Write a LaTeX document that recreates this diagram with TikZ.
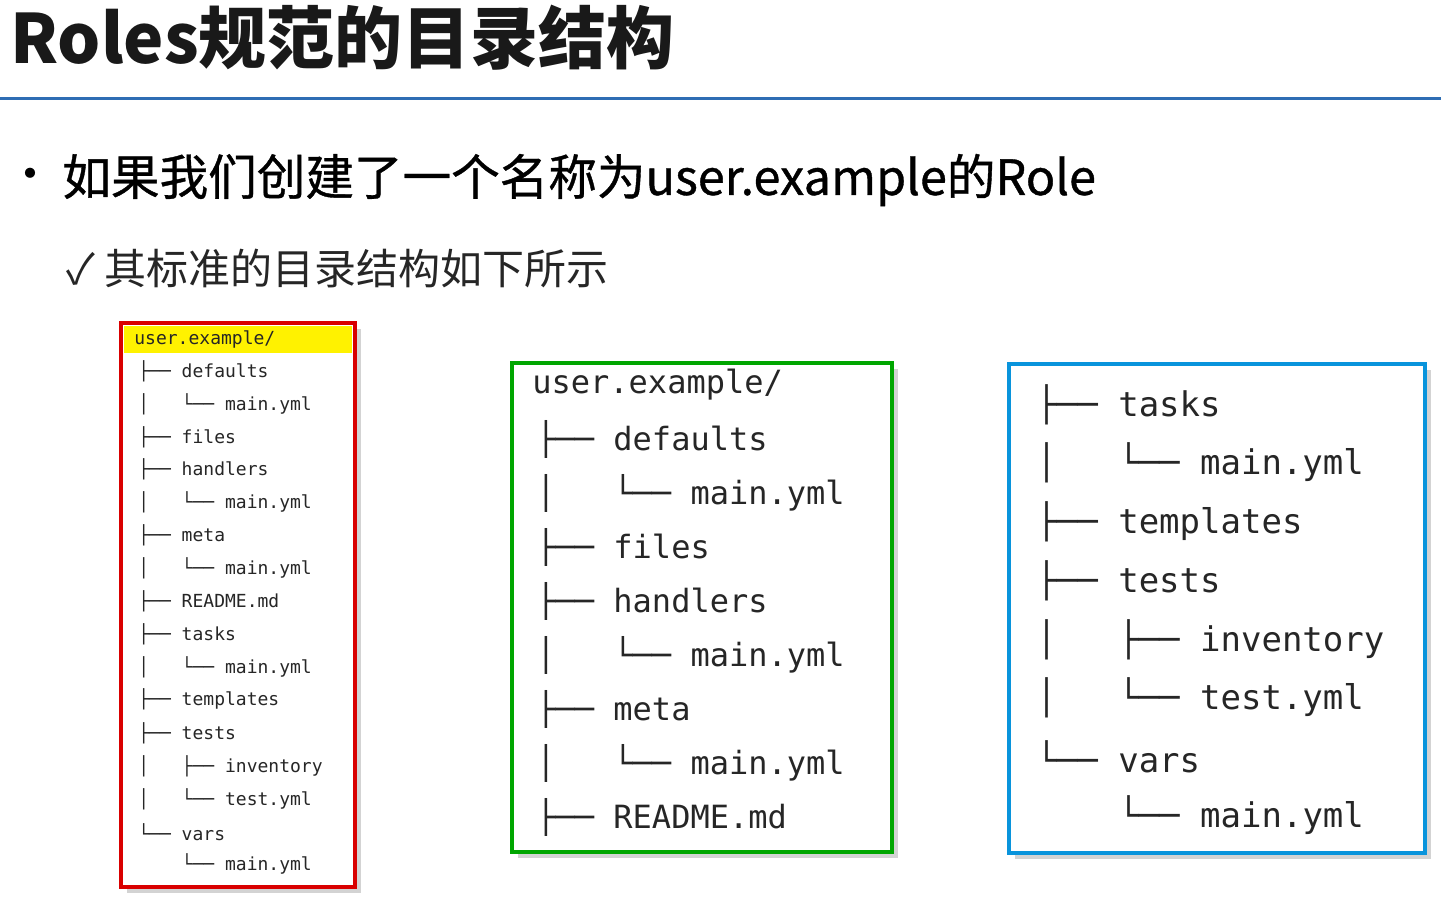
\documentclass[tikz,border=0pt]{standalone}
\usepackage{fontspec}
\setmainfont{Noto Sans CJK SC}
\newfontfamily\medfont[FakeBold=0.8]{Noto Sans CJK SC}
\newfontfamily\mono{DejaVu Sans Mono}
\usetikzlibrary{shadows}
\definecolor{txt}{HTML}{262626}
\definecolor{rule}{HTML}{2E6DB4}
\tikzset{
  box/.style={draw, line width=1.6pt, fill=white, drop shadow={shadow xshift=3pt, shadow yshift=-3pt, opacity=0.35}},
  t1/.style={anchor=west, inner sep=0pt, font=\mono\fontsize{9}{9}\selectfont, text=txt},
  t2/.style={anchor=west, inner sep=0pt, font=\mono\fontsize{16}{16}\selectfont, text=txt},
  t3/.style={anchor=west, inner sep=0pt, font=\mono\fontsize{17}{17}\selectfont, text=txt},
}
\begin{document}
\begin{tikzpicture}[x=0.5pt,y=-0.5pt]
\useasboundingbox (0,0) rectangle (1441,900);
\node[anchor=west, inner sep=0pt, font=\bfseries\fontsize{34}{34}\selectfont, text=black!90] (title) at (10,38) {Roles规范的目录结构};
\draw[rule, line width=1.5pt] (0,98) -- (1441,98);
\node[anchor=west, inner sep=0pt, font=\fontsize{24}{24}\selectfont, text=black] (b1) at (6,180) {•};
\node[anchor=west, inner sep=0pt, font=\medfont\fontsize{24.3}{24.3}\selectfont, text=black] (l1) at (62,180) {如果我们创建了一个名称为user.example的Role};
\node[anchor=west, inner sep=0pt, font=\fontsize{21}{21}\selectfont, text=txt] (l2) at (66,268) {✓~其标准的目录结构如下所示};
% box 1
\draw[box, draw=red!85!black] (121,323) rectangle (355,887);
\fill[yellow] (124,326) rectangle (352,353);
\node[t1] (a0) at (134,339) {user.example/};
\foreach \y/\s [count=\i] in {371/├──~defaults, 404/│~~~└──~main.yml, 437/├──~files, 469/├──~handlers, 502/│~~~└──~main.yml, 535/├──~meta, 568/│~~~└──~main.yml, 601/├──~README.md, 634/├──~tasks, 667/│~~~└──~main.yml, 699/├──~templates, 733/├──~tests, 766/│~~~├──~inventory, 799/│~~~└──~test.yml, 832/└──~vars, 864/~~~~└──~main.yml}
  \node[t1] (a\i) at (138,\y) {\s};
% box 2
\draw[box, draw=green!65!black] (512,363) rectangle (892,852);
\node[t2] (c0) at (532,385) {user.example/};
\foreach \y/\s [count=\i] in {439/├──~defaults, 493/│~~~└──~main.yml, 547/├──~files, 601/├──~handlers, 655/│~~~└──~main.yml, 709/├──~meta, 763/│~~~└──~main.yml, 817/├──~README.md}
  \node[t2] (c\i) at (536,\y) {\s};
% box 3
\draw[box, draw=cyan!80!blue] (1009,364) rectangle (1425,853);
\foreach \y/\s [count=\i] in {405/├──~tasks, 463/│~~~└──~main.yml, 522/├──~templates, 581/├──~tests, 640/│~~~├──~inventory, 698/│~~~└──~test.yml, 757/└──~vars, 815/~~~~└──~main.yml}
  \node[t3] (d\i) at (1036,\y) {\s};
\end{tikzpicture}
\end{document}
